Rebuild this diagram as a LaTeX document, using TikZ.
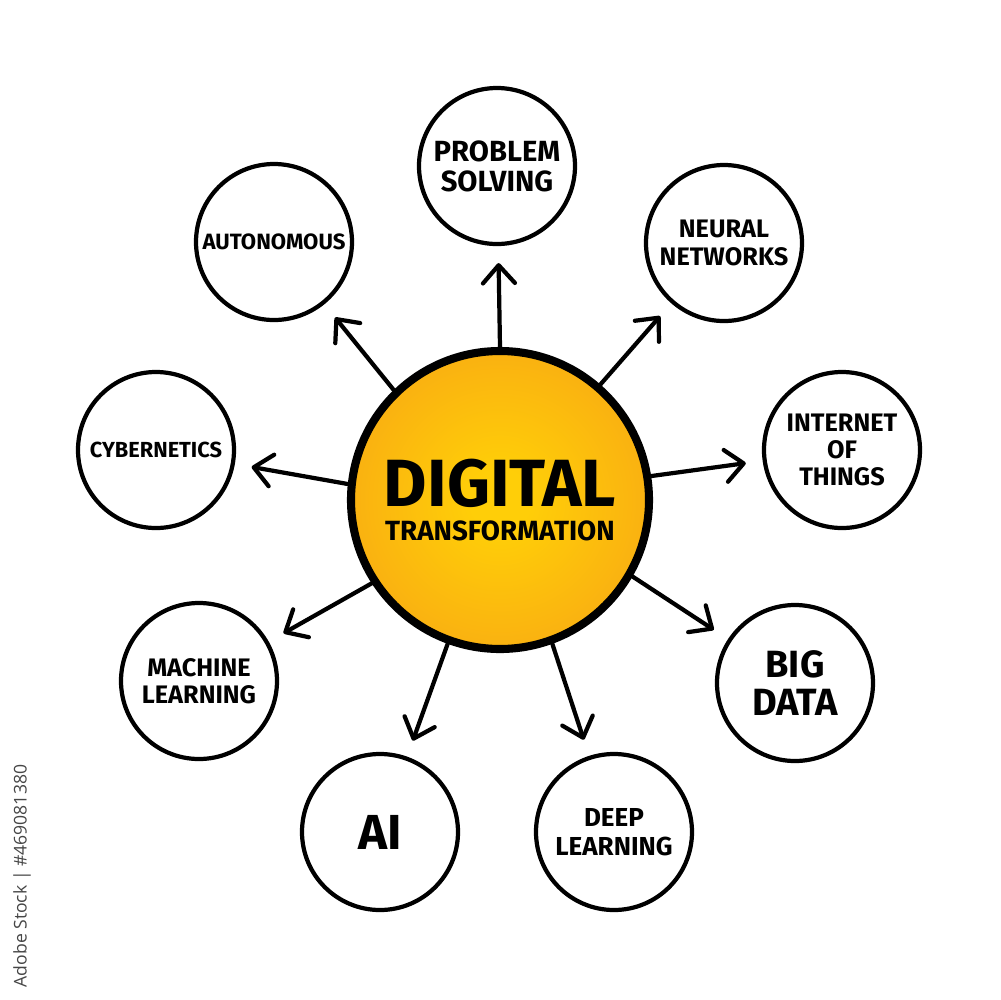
\documentclass[tikz,border=0pt]{standalone}
\usepackage{fontspec}
\setmainfont{Fira Sans}
\newfontfamily\stockfont{Open Sans}
\usetikzlibrary{arrows.meta}
\tikzset{>={Straight Barb[length=1.8mm,width=3.2mm,round]}}
\definecolor{hubInner}{RGB}{255,206,8}
\definecolor{hubOuter}{RGB}{245,150,25}
\definecolor{stockGrey}{RGB}{70,70,70}
\pgfdeclareradialshading{hubShade}{\pgfpoint{0bp}{0bp}}{color(0bp)=(hubInner); color(5bp)=(hubInner); color(44bp)=(hubOuter); color(72bp)=(hubOuter)}
\tikzset{
	hub/.style={circle, draw=black, line width=2.3pt, shading=hubShade, minimum size=29.8mm, inner sep=0pt, align=center},
	topic/.style={circle, draw=black, line width=1.2pt, fill=white, minimum size=15.6mm, inner sep=0pt, align=center},
	link/.style={->, line width=1.2pt, line cap=round, shorten >=1.7mm}
}

\begin{document}
\begin{tikzpicture}[x=0.1mm, y=-0.1mm]
		% the page
		\useasboundingbox[fill=white] (0, 0) rectangle (1000, 1000);

		% the centre
		\node[hub] (dt) at (500, 500) {\bfseries\fontsize{19}{21}\selectfont DIGITAL\\[-0.9mm]\bfseries\fontsize{7.9}{9}\selectfont TRANSFORMATION};

		% the topics round it
		\node[topic, font=\bfseries\fontsize{8.3}{8.6}\selectfont] (ps) at (497, 166) {PROBLEM\\SOLVING};
		\node[topic, font=\bfseries\fontsize{7.2}{7.8}\selectfont] (nn) at (724, 243) {NEURAL\\NETWORKS};
		\node[topic, font=\bfseries\fontsize{7.2}{7.6}\selectfont] (iot) at (842, 450) {INTERNET\\OF\\THINGS};
		\node[topic, font=\bfseries\fontsize{10.8}{11}\selectfont] (bd) at (795, 683) {BIG\\DATA};
		\node[topic, font=\bfseries\fontsize{7.4}{8.2}\selectfont] (dl) at (614, 832) {DEEP\\LEARNING};
		\node[topic, font=\bfseries\fontsize{14}{15}\selectfont] (ai) at (380, 832) {AI};
		\node[topic, font=\bfseries\fontsize{7.2}{7.8}\selectfont] (ml) at (199, 681) {MACHINE\\LEARNING};
		\node[topic, font=\bfseries\fontsize{6.2}{7}\selectfont] (cy) at (156, 450) {CYBERNETICS};
		\node[topic, font=\bfseries\fontsize{6.3}{7}\selectfont] (au) at (274, 242) {AUTONOMOUS};

		% the arrows
		\draw[link] (dt.90) -- (ps);
		\draw[link] (dt.49) -- (nn);
		\draw[link] (dt.9) -- (iot);
		\draw[link] (dt.-30) -- (bd);
		\draw[link] (dt.-70) -- (dl);
		\draw[link] (dt.-110) -- (ai);
		\draw[link] (dt.-147) -- (ml);
		\draw[link] (dt.174) -- (cy);
		\draw[link] (dt.134) -- (au);

		% the stock line
		\node[rotate=90, text=stockGrey] (stock) at (22, 876) {\stockfont\fontsize{5}{6}\selectfont Adobe Stock | \#469081380};
	\end{tikzpicture}
\end{document}
